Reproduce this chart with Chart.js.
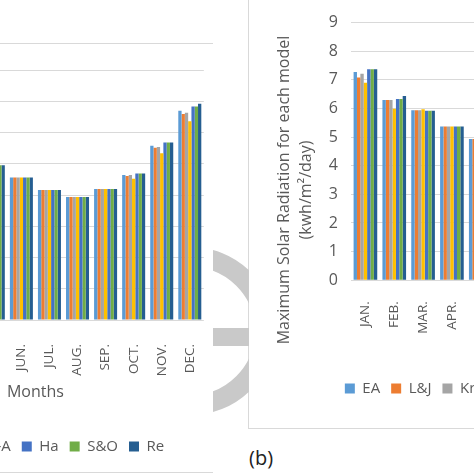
<!DOCTYPE html>
<html>
<head>
<meta charset="utf-8">
<script src="https://cdn.jsdelivr.net/npm/chart.js@4.4.0/dist/chart.umd.min.js"></script>
<style>
  html, body { margin: 0; padding: 0; background: #fff; }
  body { width: 474px; height: 474px; position: relative; overflow: hidden; font-family: 'Open Sans', sans-serif; }
  .box { position: absolute; }
  .line { position: absolute; background: #d9d9d9; }
  #ytitleB {
    position: absolute; left: 114px; top: 168px; width: 360px; height: 44px;
    transform: rotate(-90deg); text-align: center; font-size: 16px; line-height: 22px; color: #595959;
    white-space: nowrap;
  }
  #tag { position: absolute; left: 249px; top: 444px; font-size: 20px; color: #222; }
</style>
</head>
<body>

<!-- left panel (a), only its right part is in view -->
<div class="line" style="left:0; top:43px; width:213px; height:1px"></div>
<div class="line" style="left:0; top:472px; width:213px; height:1px"></div>
<div class="box" style="left:-236px; top:43px; width:458px; height:429px"><canvas id="chartA"></canvas></div>

<!-- right panel (b), only its left part is in view -->
<div class="line" style="left:248px; top:0; width:1px; height:429px"></div>
<div class="line" style="left:248px; top:428px; width:226px; height:1px"></div>
<div class="box" style="left:249px; top:0; width:468px; height:428px"><canvas id="chartB"></canvas></div>
<div id="ytitleB">Maximum Solar Radiation for each model<br>(kwh/m²/day)</div>
<div id="tag">(b)</div>

<!-- watermark arc -->
<svg style="position:absolute; left:0; top:0" width="474" height="474">
  <defs><clipPath id="wm"><rect x="213" y="0" width="36" height="474"/></clipPath></defs>
  <g clip-path="url(#wm)" fill="none" stroke="#c9c9c9">
    <circle cx="191" cy="331" r="74" stroke-width="20"/>
    <rect x="213" y="328" width="36" height="18" fill="#c9c9c9" stroke="none"/>
  </g>
</svg>

<script>
const months = ['JAN.', 'FEB.', 'MAR.', 'APR.', 'MAY.', 'JUN.', 'JUL.', 'AUG.', 'SEP.', 'OCT.', 'NOV.', 'DEC.'];
const models = ['EA', 'L&J', 'Kr', 'B-A', 'Ha', 'S&O', 'Re'];
const colors = ['#5B9BD5', '#ED7D31', '#A5A5A5', '#FFC000', '#4472C4', '#70AD47', '#255E91'];

// panel (a) - JAN..APR are out of view, estimated
const aEA = [6.60, 5.90, 5.40, 5.00, 4.90, 4.56, 4.16, 3.94, 4.19, 4.64, 5.58, 6.70];
const aLJ = [6.50, 5.85, 5.40, 5.00, 4.90, 4.56, 4.16, 3.94, 4.19, 4.61, 5.51, 6.59];
const aKr = [6.55, 5.87, 5.40, 5.00, 4.90, 4.56, 4.16, 3.94, 4.19, 4.64, 5.54, 6.63];
const aBA = [6.30, 5.70, 5.35, 5.00, 4.90, 4.56, 4.16, 3.94, 4.19, 4.52, 5.34, 6.36];
const aHa = [6.75, 6.00, 5.45, 5.00, 4.95, 4.56, 4.16, 3.94, 4.19, 4.69, 5.68, 6.83];
const aSO = [6.75, 6.00, 5.45, 5.00, 4.95, 4.56, 4.16, 3.94, 4.19, 4.69, 5.68, 6.83];
const aRe = [6.85, 6.05, 5.45, 5.00, 4.95, 4.56, 4.16, 3.94, 4.19, 4.69, 5.68, 6.92];

// panel (b) - JUN..DEC are out of view, estimated
const bEA = [7.27, 6.30, 5.94, 5.37, 4.93, 4.70, 4.90, 5.30, 5.90, 6.50, 7.00, 7.30];
const bLJ = [7.08, 6.30, 5.94, 5.37, 4.93, 4.70, 4.90, 5.30, 5.90, 6.45, 6.90, 7.15];
const bKr = [7.21, 6.30, 5.94, 5.37, 4.93, 4.70, 4.90, 5.30, 5.90, 6.48, 6.95, 7.22];
const bBA = [6.90, 5.99, 5.97, 5.37, 4.93, 4.70, 4.90, 5.30, 5.90, 6.30, 6.70, 6.95];
const bHa = [7.37, 6.33, 5.92, 5.37, 4.93, 4.70, 4.90, 5.30, 5.90, 6.55, 7.05, 7.40];
const bSO = [7.37, 6.33, 5.92, 5.37, 4.93, 4.70, 4.90, 5.30, 5.90, 6.55, 7.05, 7.40];
const bRe = [7.37, 6.44, 5.92, 5.37, 4.93, 4.70, 4.90, 5.30, 5.90, 6.60, 7.10, 7.45];

const yTicksB = [0, 1, 2, 3, 4, 5, 6, 7, 8, 9];

Chart.defaults.font.family = "'Open Sans', sans-serif";
Chart.defaults.color = '#595959';

function toDatasets(series) {
  return series.map((values, i) => ({
    label: models[i],
    data: values,
    backgroundColor: colors[i],
    borderWidth: 0,
    categoryPercentage: 0.82,
    barPercentage: 1.0,
  }));
}

const legendOpts = {
  position: 'bottom',
  labels: { boxWidth: 10, boxHeight: 10, padding: 11, font: { size: 15 }, color: '#595959' },
};

new Chart(document.getElementById('chartA'), {
  type: 'bar',
  data: { labels: months, datasets: toDatasets([aEA, aLJ, aKr, aBA, aHa, aSO, aRe]) },
  options: {
    responsive: true,
    maintainAspectRatio: false,
    animation: false,
    layout: { padding: { top: 27, left: 6, right: 0, bottom: 8 } },
    plugins: { legend: legendOpts, tooltip: { enabled: false } },
    scales: {
      x: {
        afterFit: (scale) => { scale.height = 108; },
        grid: { display: false },
        border: { display: false },
        ticks: { minRotation: 90, maxRotation: 90, padding: 16, font: { size: 13.5 }, color: '#595959' },
        title: { display: true, text: 'Months', font: { size: 16 }, color: '#595959', padding: { top: 0, bottom: 26 } },
      },
      y: {
        min: 0, max: 8,
        // axis labels and title of (a) are outside the view; keep their room
        afterFit: (scale) => { scale.width = 97; },
        ticks: { display: false, stepSize: 1 },
        grid: { color: '#d9d9d9', drawTicks: false },
        border: { display: false },
      },
    },
  },
});

new Chart(document.getElementById('chartB'), {
  type: 'bar',
  data: { labels: months, datasets: toDatasets([bEA, bLJ, bKr, bBA, bHa, bSO, bRe]) },
  options: {
    responsive: true,
    maintainAspectRatio: false,
    animation: false,
    layout: { padding: { top: 20, left: 80, right: 20, bottom: 22 } },
    plugins: { legend: legendOpts, tooltip: { enabled: false } },
    scales: {
      x: {
        grid: { display: false },
        border: { display: false },
        ticks: { minRotation: 90, maxRotation: 90, padding: 13, font: { size: 13.5 }, color: '#595959' },
        title: { display: true, text: 'Months', font: { size: 16 }, color: '#595959', padding: { top: 0, bottom: 4 } },
      },
      y: {
        min: 0, max: 9,
        afterBuildTicks: (scale) => { scale.ticks = yTicksB.map(v => ({ value: v })); },
        afterFit: (scale) => { scale.width = 22; },
        ticks: { padding: 13, font: { size: 16 }, color: '#595959' },
        grid: { color: '#d9d9d9', drawTicks: false },
        border: { display: false },
      },
    },
  },
});
</script>
</body>
</html>
